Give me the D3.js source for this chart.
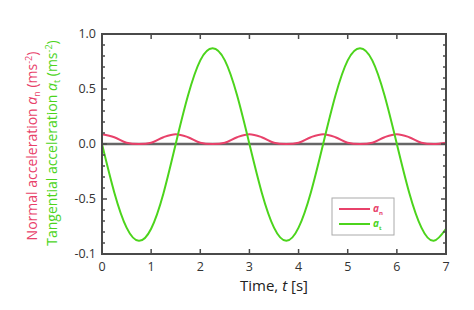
<!DOCTYPE html>
<html>
<head>
<meta charset="utf-8">
<script src="https://cdn.jsdelivr.net/npm/d3@7"></script>
<style>
  body { margin: 0; background: #fff; }
  svg { display: block; font-family: "Open Sans", "Noto Sans", sans-serif; }
</style>
</head>
<body>
<svg id="chart" width="474" height="310"></svg>
<script>
// time samples (s)
var times = [0, 0.25, 0.5, 0.75, 1, 1.25, 1.5, 1.75, 2, 2.25, 2.5, 2.75, 3, 3.25, 3.5,
             3.75, 4, 4.25, 4.5, 4.75, 5, 5.25, 5.5, 5.75, 6, 6.25, 6.5, 6.75, 7];
// normal acceleration a_n
var normalAcc = [0.088, 0.062, 0.012, 0, 0.012, 0.062, 0.088, 0.062, 0.012, 0, 0.012, 0.062, 0.088, 0.062, 0.012,
                 0, 0.012, 0.062, 0.088, 0.062, 0.012, 0, 0.012, 0.062, 0.088, 0.062, 0.012, 0, 0.012];
// tangential acceleration a_t
var tangAcc = [0, -0.44, -0.76, -0.88, -0.77, -0.45, 0, 0.44, 0.76, 0.87, 0.76, 0.44, 0, -0.44, -0.76,
               -0.88, -0.76, -0.44, 0, 0.44, 0.76, 0.87, 0.76, 0.44, 0, -0.44, -0.76, -0.88, -0.77];

var xTicks = [0, 1, 2, 3, 4, 5, 6, 7];
var yTicks = [1, 0.5, 0, -0.5, -1];
var yTickLabels = ["1.0", "0.5", "0.0", "-0.5", "-0.1"];

var red = "#e8416a", green = "#4cd41c", frame = "#4a4a4a";

var svg = d3.select("#chart");
var x = d3.scaleLinear().domain([0, 7]).range([102, 446]);
var y = d3.scaleLinear().domain([-1, 1]).range([254, 34]);

// zero line
svg.append("line")
	.attr("x1", x(0)).attr("x2", x(7))
	.attr("y1", y(0)).attr("y2", y(0))
	.attr("stroke", "#666").attr("stroke-width", 2.5);

var line = function(vals, curve) {
	return d3.line()
		.x(function(d, i) { return x(times[i]); })
		.y(function(d) { return y(d); })
		.curve(curve)(vals);
};

svg.append("path").attr("d", line(normalAcc, d3.curveCatmullRom))
	.attr("fill", "none").attr("stroke", red).attr("stroke-width", 2);
svg.append("path").attr("d", line(tangAcc, d3.curveNatural))
	.attr("fill", "none").attr("stroke", green).attr("stroke-width", 2);

// frame with inward ticks
var g = svg.append("g").attr("stroke", frame).attr("fill", "none");
g.append("rect").attr("x", x(0)).attr("y", y(1))
	.attr("width", x(7) - x(0)).attr("height", y(-1) - y(1))
	.attr("stroke-width", 2);

var minor = d3.range(-10, 11).map(function(v) { return v / 10; });
minor.forEach(function(v) {
	var len = (Math.abs(v * 2 - Math.round(v * 2)) < 1e-6) ? 5 : 3;
	g.append("line").attr("x1", x(0)).attr("x2", x(0) + len)
		.attr("y1", y(v)).attr("y2", y(v)).attr("stroke-width", 1.5);
	g.append("line").attr("x1", x(7)).attr("x2", x(7) - len)
		.attr("y1", y(v)).attr("y2", y(v)).attr("stroke-width", 1.5);
});
xTicks.forEach(function(t) {
	g.append("line").attr("x1", x(t)).attr("x2", x(t))
		.attr("y1", y(-1)).attr("y2", y(-1) - 5).attr("stroke-width", 1.5);
	g.append("line").attr("x1", x(t)).attr("x2", x(t))
		.attr("y1", y(1)).attr("y2", y(1) + 5).attr("stroke-width", 1.5);
});

// tick labels
svg.selectAll(".xl").data(xTicks).enter().append("text")
	.attr("x", function(d) { return x(d); })
	.attr("y", 271)
	.attr("text-anchor", "middle")
	.attr("font-size", 12.5).attr("fill", "#333")
	.text(function(d) { return d; });

svg.selectAll(".yl").data(yTicks).enter().append("text")
	.attr("x", 96)
	.attr("y", function(d) { return y(d) + 4; })
	.attr("text-anchor", "end")
	.attr("font-size", 12.5).attr("fill", "#333")
	.text(function(d, i) { return yTickLabels[i]; });

// axis titles
var xt = svg.append("text").attr("x", 274).attr("y", 291)
	.attr("text-anchor", "middle").attr("font-size", 15).attr("fill", "#222");
xt.append("tspan").text("Time, ");
xt.append("tspan").attr("font-style", "italic").text("t");
xt.append("tspan").text(" [s]");

function yTitle(cx, cy, color, label, sub) {
	var t = svg.append("text")
		.attr("transform", "translate(" + cx + "," + cy + ") rotate(-90)")
		.attr("text-anchor", "middle").attr("font-size", 14).attr("fill", color);
	t.append("tspan").text(label + " ");
	t.append("tspan").attr("font-style", "italic").text("a");
	t.append("tspan").attr("font-size", 9).attr("dy", 3).text(sub);
	t.append("tspan").attr("dy", -3).text(" (ms");
	t.append("tspan").attr("font-size", 9).attr("dy", -5).text("-2");
	t.append("tspan").attr("dy", 5).text(")");
}
yTitle(37, 146, red, "Normal acceleration", "n");
yTitle(57, 143, green, "Tangential acceleration", "t");

// legend
var lg = svg.append("g");
lg.append("rect").attr("x", 332).attr("y", 198).attr("width", 62).attr("height", 37)
	.attr("fill", "#fff").attr("stroke", "#aaa").attr("stroke-width", 1);
[[red, "n"], [green, "t"]].forEach(function(s, i) {
	var yy = 209 + i * 15;
	lg.append("line").attr("x1", 339).attr("x2", 370).attr("y1", yy).attr("y2", yy)
		.attr("stroke", s[0]).attr("stroke-width", 2);
	var tx = lg.append("text").attr("x", 373).attr("y", yy + 3)
		.attr("font-size", 10).attr("font-weight", "bold").attr("fill", s[0]);
	tx.append("tspan").attr("font-style", "italic").text("a");
	tx.append("tspan").attr("font-size", 6).attr("dy", 3).text(s[1]);
});
</script>
</body>
</html>
